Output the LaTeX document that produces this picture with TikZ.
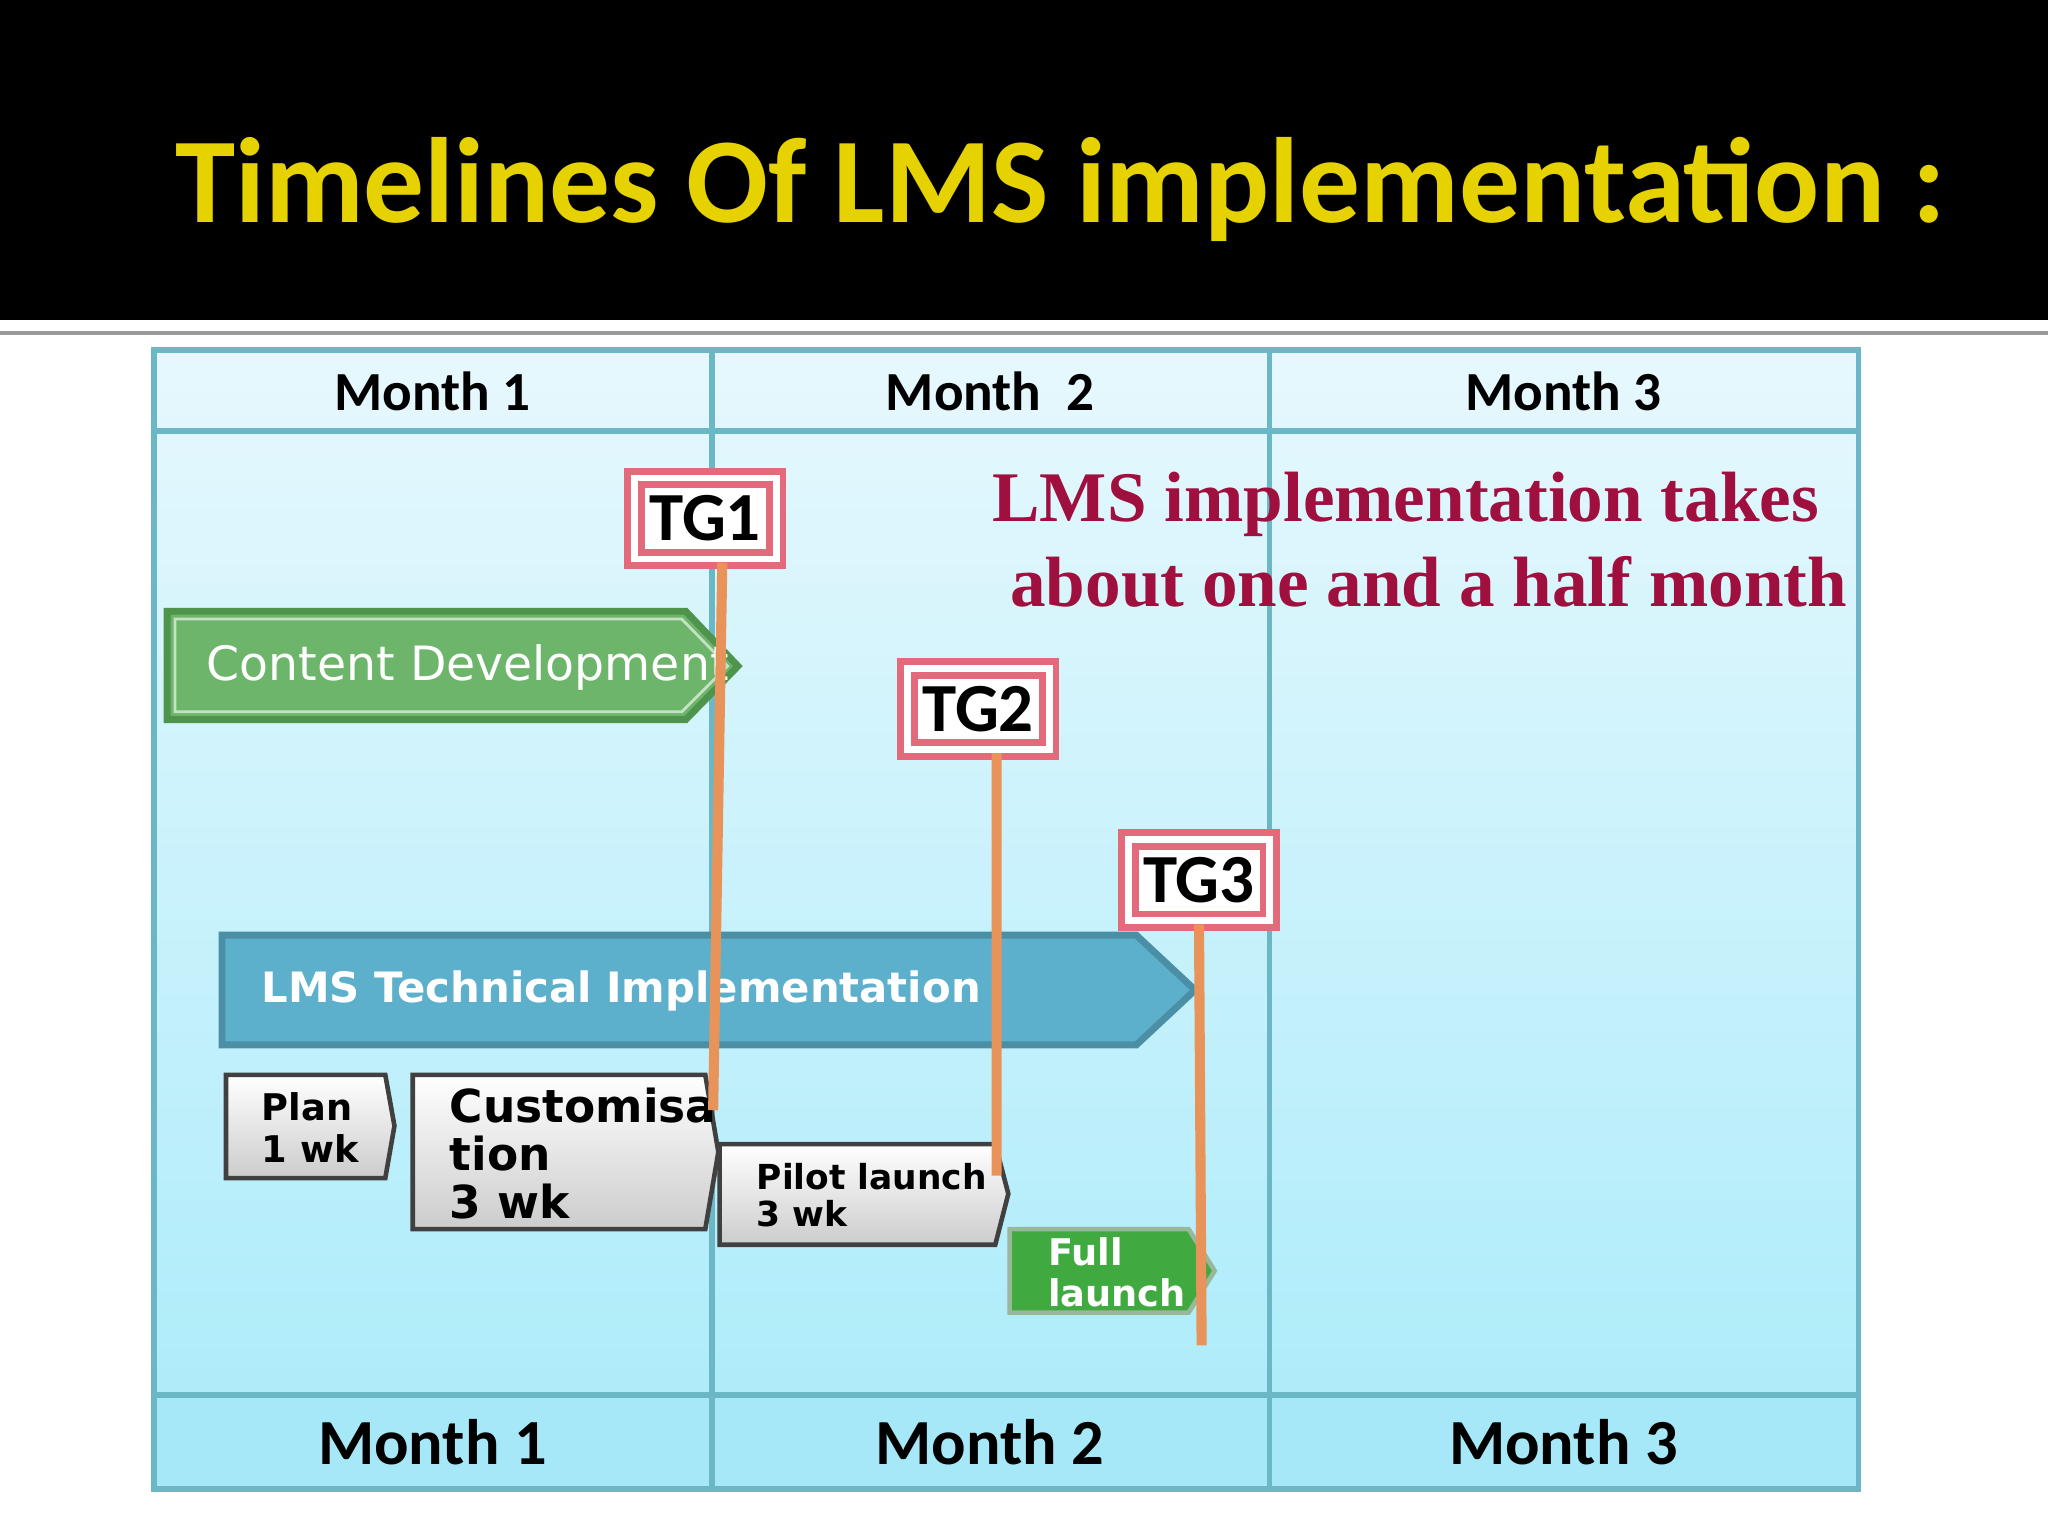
\documentclass[tikz,border=0pt]{standalone}
\usepackage{fontspec}
\setmainfont{Carlito}
\newfontfamily\verd{DejaVu Sans}
\newfontfamily\serifb{Liberation Serif}
\definecolor{gridc}{HTML}{6CB7C6}
\definecolor{bgtop}{HTML}{E6F8FD}
\definecolor{bgbot}{HTML}{A9EBFA}
\definecolor{foot}{HTML}{A6E8F8}
\definecolor{tgc}{HTML}{E36A7A}
\definecolor{orc}{HTML}{E8935A}
\definecolor{redt}{HTML}{A0103F}
\definecolor{gfill}{HTML}{6DB56B}
\definecolor{gdraw}{HTML}{4E944C}
\definecolor{bfill}{HTML}{5DB0CB}
\definecolor{bdraw}{HTML}{4A8FA6}
\definecolor{ttl}{HTML}{E6D200}
\begin{document}
\begin{tikzpicture}[x=0.01cm,y=-0.01cm,
  grid/.style={draw=gridc,line width=1.2pt},
  tgbox/.style={draw=tgc,line width=1.5pt,double=white,double distance=1.5pt,fill=white,minimum width=1.05cm,minimum height=0.62cm,font=\bfseries\fontsize{15}{15}\selectfont},
  orl/.style={draw=orc,line width=2.2pt},
  greyb/.style={draw=black!75,line width=1pt,top color=white,bottom color=black!20},
  mon/.style={font=\bfseries\fontsize{12}{12}\selectfont},
  monb/.style={font=\bfseries\fontsize{14}{14}\selectfont},
  wbold/.style={font=\verd\bfseries\fontsize{8}{9.2}\selectfont,align=left,anchor=west}]
\useasboundingbox (0,0) rectangle (1568,1176);
\fill[white] (0,0) rectangle (1568,1176);
\fill[black] (0,0) rectangle (1568,245);
\draw[black!40,line width=0.8pt] (0,255) -- (1568,255);
\node[text=ttl] (title) at (812,145) {\resizebox{13.55cm}{!}{\bfseries Timelines Of LMS implementation :}};
% table
\shade[top color=bgtop,bottom color=bgbot] (118,268) rectangle (1423,1140);
\fill[foot] (118,1068) rectangle (1423,1140);
\draw[grid] (118,268) rectangle (1423,1140);
\draw[grid] (118,330) -- (1423,330);
\draw[grid] (118,1068) -- (1423,1068);
\draw[grid] (545,268) -- (545,1140);
\draw[grid] (972,268) -- (972,1140);
\node[mon] (m1) at (331,300) {Month 1};
\node[mon] (m2) at (758,300) {Month\ \ 2};
\node[mon] (m3) at (1197,300) {Month 3};
\node[monb] (f1) at (331,1104) {Month 1};
\node[monb] (f2) at (758,1104) {Month 2};
\node[monb] (f3) at (1197,1104) {Month 3};
% red text
\node[text=redt,font=\serifb\bfseries\fontsize{15.5}{18.5}\selectfont,align=left] (rt) at (1087,413) {LMS implementation takes\\ \ about one and a half month};
% green content arrow
\filldraw[fill=gfill,draw=gdraw,line width=1.5pt]
  (128,468) -- (525,468) -- (565,510) -- (525,551) -- (128,551) -- cycle;
\draw[white!60!gfill,line width=0.6pt] (134,474) -- (522,474) -- (557,510) -- (522,545) -- (134,545) -- cycle;
\node[text=white,font=\verd\fontsize{10.3}{11}\selectfont,anchor=west] (cd) at (146,511) {Content Development};
% blue LMS arrow
\filldraw[fill=bfill,draw=bdraw,line width=1.5pt]
  (170,716) -- (870,716) -- (915,758) -- (870,800) -- (170,800) -- cycle;
\node[text=white,font=\verd\bfseries\fontsize{9.1}{10}\selectfont,anchor=west] (lti) at (188,759) {LMS Technical Implementation};
% grey boxes
\draw[greyb] (173,823) -- (295,823) -- (302,862) -- (295,902) -- (173,902) -- cycle;
\node[wbold,text=black] (plan) at (188,863) {Plan\\1 wk};
\draw[greyb] (316,823) -- (540,823) -- (550,882) -- (540,941) -- (316,941) -- cycle;
\node[wbold,text=black,font=\verd\bfseries\fontsize{9.9}{10.4}\selectfont] (cust) at (332,883) {Customisa\\tion\\3 wk};
\draw[greyb] (551,876) -- (762,876) -- (772,914) -- (762,953) -- (551,953) -- cycle;
\node[wbold,text=black,font=\verd\bfseries\fontsize{7.5}{8.2}\selectfont] (pilot) at (567,915) {Pilot launch\\3 wk};
\filldraw[fill=green!55!black!75!white,draw=green!30!black!40!white,line width=1pt]
  (773,941) -- (910,941) -- (930,973) -- (910,1005) -- (773,1005) -- cycle;
\node[wbold,text=white,font=\verd\bfseries\fontsize{8}{9}\selectfont] (full) at (790,974) {Full\\launch};
% TG markers
\node[tgbox] (tg1) at (540,397) {TG1};
\node[tgbox] (tg2) at (749,543) {TG2};
\node[tgbox] (tg3) at (918,674) {TG3};
\coordinate (e1) at (546,850);
\coordinate (e2) at (763,900);
\coordinate (e3) at (920,1030);
\draw[orl] ([xshift=0.13cm]tg1.south) -- (e1);
\draw[orl] ([xshift=0.14cm]tg2.south) -- (e2);
\draw[orl] (tg3.south) -- (e3);
\end{tikzpicture}
\end{document}
